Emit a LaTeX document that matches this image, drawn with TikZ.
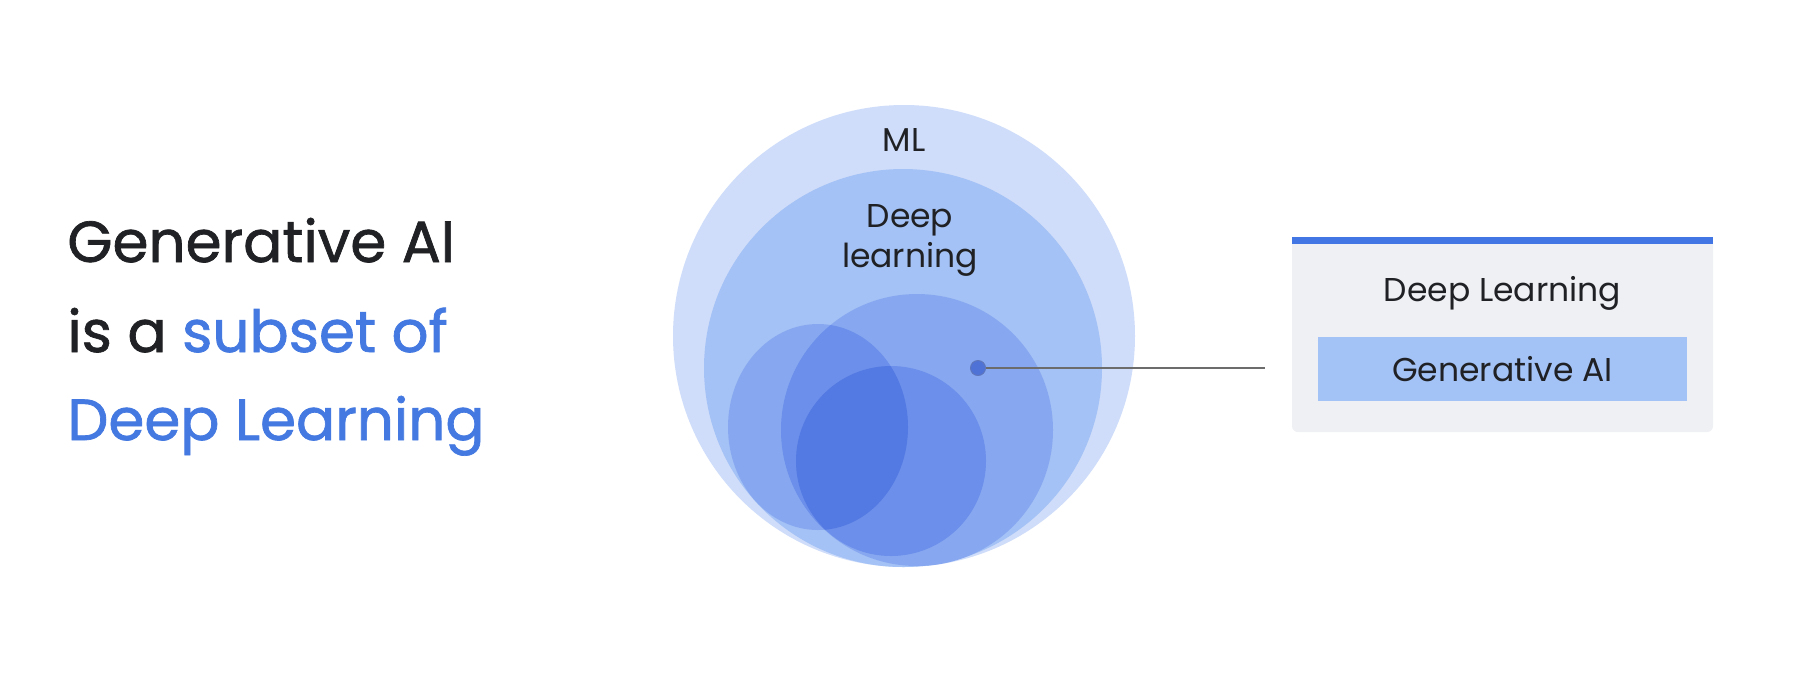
\documentclass[tikz,border=0pt]{standalone}
\usepackage{fontspec}
\setmainfont{Poppins}
\newfontfamily\headfont{Poppins}[FakeBold=1.2]
\usetikzlibrary{shapes.geometric}
\definecolor{mlc}{HTML}{CFDDFA}
\definecolor{dlc}{HTML}{A4C2F5}
\definecolor{cone}{HTML}{87A8F0}
\definecolor{ctwo}{HTML}{6B8FEA}
\definecolor{cthree}{HTML}{5379E2}
\definecolor{dotc}{HTML}{4F72D6}
\definecolor{txt}{HTML}{202124}
\definecolor{gblue}{HTML}{4479E1}
\definecolor{panelgray}{HTML}{EFF0F3}
\definecolor{barblue}{HTML}{4176E4}
\definecolor{innerblue}{HTML}{A3C2F5}
\tikzset{
  headline/.style={anchor=base west, inner sep=0pt, font=\headfont\fontsize{29}{36}\selectfont, text=txt},
  circlabel/.style={inner sep=0pt, font=\fontsize{16.5}{20}\selectfont, text=txt, align=center},
  paneltext/.style={inner sep=0pt, font=\fontsize{16.5}{20}\selectfont, text=txt},
}
\begin{document}
\begin{tikzpicture}[x=0.5pt,y=-0.5pt]
\useasboundingbox[fill=white] (0,0) rectangle (1800,693);
% left headline
\node[headline] (t1) at (67,262) {Generative AI};
\node[headline] (t2) at (67,352) {is a \textcolor{gblue}{subset of}};
\node[headline, text=gblue] (t3) at (67,440) {Deep Learning};
% circles
\fill[mlc] (904,336) circle[radius=115.5pt];
\fill[dlc] (903,368) circle[radius=99.5pt];
\fill[cone] (917,430) circle[radius=68pt];
\fill[cone] (818,427) ellipse[x radius=45pt, y radius=51.5pt];
\fill[cone] (891,461) circle[radius=47.5pt];
\begin{scope}
  \clip (818,427) ellipse[x radius=45pt, y radius=51.5pt];
  \fill[ctwo] (891,461) circle[radius=47.5pt];
\end{scope}
\begin{scope}
  \clip (917,430) circle[radius=68pt];
  \fill[ctwo] (818,427) ellipse[x radius=45pt, y radius=51.5pt];
  \fill[ctwo] (891,461) circle[radius=47.5pt];
  \clip (818,427) ellipse[x radius=45pt, y radius=51.5pt];
  \fill[cthree] (891,461) circle[radius=47.5pt];
\end{scope}
\node[circlabel] (ml) at (904,140) {ML};
\node[circlabel] (dl) at (910,240) {Deep\\learning};
% dot and connector
\node[circle, fill=dotc, draw=dotc!70!gray, line width=0.5pt, minimum size=7.5pt, inner sep=0pt] (dot) at (978,368) {};
\coordinate (lineend) at (1265,368);
\draw[line width=0.8pt, color=gray!85!black] (dot.east) -- (lineend);
% panel
\node[rectangle, fill=panelgray, rounded corners=3pt, minimum width=210.5pt, minimum height=97.5pt, inner sep=0pt] (panel) at (1502.5,334.5) {};
\fill[barblue] (1292,237) rectangle (1713,244);
\node[paneltext] (dlt) at (1502.5,293) {Deep Learning};
\node[rectangle, fill=innerblue, minimum width=184.5pt, minimum height=32pt, inner sep=0pt, font=\fontsize{16.5}{20}\selectfont, text=txt] (genai) at (1502.5,369) {Generative AI};
\end{tikzpicture}
\end{document}
